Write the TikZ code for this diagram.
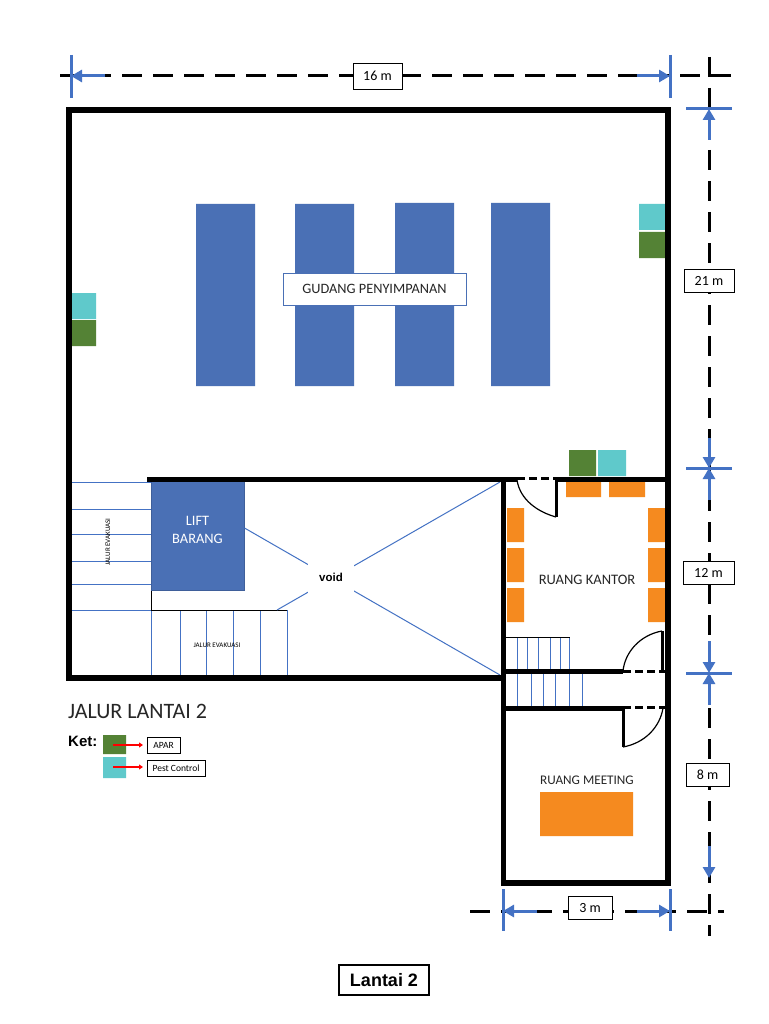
\documentclass[tikz,border=0pt]{standalone}
\usepackage{fontspec}
\setmainfont{Carlito}
\newfontfamily\arialfont{Liberation Sans}
\usetikzlibrary{arrows.meta}
\definecolor{rackblue}{HTML}{4A70B5}
\definecolor{stairblue}{HTML}{4472C4}
\definecolor{deskorange}{HTML}{F58A1F}
\definecolor{aparcolor}{HTML}{548235}
\definecolor{pestcolor}{HTML}{5FC9CB}
\tikzset{
	wall/.style={line width=5.5pt,miter limit=10},
	innerwall/.style={line width=5pt},
	thinwall/.style={line width=3pt},
	doorline/.style={line width=3pt,dash pattern=on 8pt off 4pt},
	doorswing/.style={line width=1.2pt},
	stairline/.style={stairblue,line width=1pt},
	dimline/.style={line width=3pt,dash pattern=on 20pt off 11pt},
	dimtick/.style={stairblue,line width=3pt},
	dimarrow/.style={stairblue,line width=3pt,-{Triangle[length=11pt,width=12pt]}},
	dimbox/.style={draw,fill=white,line width=0.8pt,inner sep=0pt,font=\fontsize{14}{16}\selectfont},
	tag/.style={draw,fill=white,line width=1pt,inner sep=0pt,font=\fontsize{9.5}{11}\selectfont},
	keyarrow/.style={red,line width=2.5pt,-{Triangle[length=4pt,width=5pt]}},
	roomlabel/.style={inner sep=0pt,text=black!85,font=\fontsize{14.5}{17}\selectfont}
}
\begin{document}
\begin{tikzpicture}[x=1pt,y=-1pt]
			\useasboundingbox (0,0) rectangle (768,1024);
			\fill[white] (0,0) rectangle (768,1024);

			\fill[rackblue] (196,204) rectangle (255,386)
							(295,204) rectangle (354,386)
							(395,203) rectangle (454,386)
							(491,203) rectangle (550,386);
			\node[draw=rackblue,fill=white,line width=0.8pt,inner sep=0pt,minimum width=183pt,minimum height=32pt,text=black!85,font=\fontsize{14.3}{16}\selectfont] (gudang) at (374.5,289) {GUDANG PENYIMPANAN};

			\fill[pestcolor] (639,204) rectangle (665,230)
							 (72,293) rectangle (96,319)
							 (598,450) rectangle (626,476)
							 (103,757) rectangle (126,778);
			\fill[aparcolor] (639,232) rectangle (665,258)
							 (72,320) rectangle (96,346)
							 (569,450) rectangle (596,476)
							 (103,735) rectangle (126,754);

			\fill[deskorange] (566,482) rectangle (601,497)
							  (609,482) rectangle (645,497)
							  (507,508) rectangle (524,542)
							  (507,548) rectangle (524,582)
							  (507,588) rectangle (524,622)
							  (648,508) rectangle (666,542)
							  (648,548) rectangle (666,582)
							  (648,588) rectangle (666,622)
							  (540,792) rectangle (633,836);

			\draw[stairline] (71,482) -- (151,482) (71,509) -- (151,509)
							 (71,534) -- (151,534) (71,561) -- (151,561)
							 (71,584) -- (151,584) (71,610) -- (151,610)
							 (151,610) -- (151,675) (180,610) -- (180,675)
							 (206,610) -- (206,675) (233,610) -- (233,675)
							 (260,610) -- (260,675) (287,610) -- (287,675);
			\draw[stairline] (517,637) -- (517,669) (527,637) -- (527,669)
							 (538,637) -- (538,669) (550,637) -- (550,669)
							 (560,637) -- (560,669) (569,637) -- (569,669)
							 (517,673) -- (517,706) (531,673) -- (531,706)
							 (543,673) -- (543,706) (555,673) -- (555,706)
							 (569,673) -- (569,706) (582,673) -- (582,706);
			\draw[line width=0.8pt] (151,481) -- (151,610) -- (287,610)
									(505,637) -- (570,637);

			\node[fill=rackblue,draw=rackblue!85!black,line width=0.6pt,inner sep=0pt,minimum width=93pt,minimum height=109pt] (lift) at (197.5,535.5) {};
			\node[align=center,inner sep=0pt,text=white,font=\fontsize{14.4}{18}\selectfont] (liftlabel) at (197.5,530) {LIFT\\BARANG};

			\coordinate (voidA) at (244.5,528);
			\coordinate (voidB) at (500,675);
			\coordinate (voidC) at (277,610);
			\coordinate (voidD) at (500,482);
			\draw[stairline] (voidA) -- (voidB) (voidC) -- (voidD);
			\node[fill=white,inner sep=0pt,minimum width=46pt,minimum height=33pt,font=\arialfont\bfseries\fontsize{11.5}{13}\selectfont] (void) at (331,577) {void};

			\node[rotate=90,inner sep=0pt,font=\fontsize{7}{8}\selectfont] (evakuasiA) at (108,542) {JALUR EVAKUASI};
			\node[inner sep=0pt,font=\fontsize{7}{8}\selectfont] (evakuasiB) at (217,645) {JALUR EVAKUASI};

			\draw[wall] (503,678) -- (69,678) -- (69,110) -- (668,110) -- (668,883) -- (503,883);
			\draw[innerwall] (503,885.5) -- (503,476.5);
			\draw[innerwall] (147,479) -- (517,479) (556,479) -- (668,479)
							 (503,671) -- (623,671)
							 (503,708) -- (623,708);
			\draw[doorline] (517,478) -- (556,478)
							(623,671) -- (668,671)
							(623,707) -- (668,707);
			\draw[thinwall] (556,479) -- (556,517)
							(662,631) -- (662,671)
							(623,708) -- (623,747);
			\draw[doorswing] (517,480) .. controls (520,500) and (538,512) .. (556,517)
							 (662,631) .. controls (640,635) and (625,652) .. (623,671)
							 (623,747) .. controls (645,743) and (660,727) .. (663,708);

			\node[roomlabel] (kantor) at (587,580) {RUANG KANTOR};
			\node[roomlabel,font=\fontsize{13.2}{15}\selectfont] (meeting) at (587,780) {RUANG MEETING};

			\coordinate (topL) at (60,76);
			\coordinate (topR) at (735,76);
			\coordinate (botL) at (470,911);
			\coordinate (botR) at (724,911);
			\coordinate (sideT) at (709,57);
			\coordinate (sideB) at (709,936);
			\draw[dimline] (topL) -- (topR);
			\draw[dimline] (botL) -- (botR);
			\draw[dimline] (sideT) -- (sideB);

			\draw[dimtick] (71,55) -- (71,98)
						   (670,55) -- (670,98)
						   (503,889) -- (503,931)
						   (670,889) -- (670,931)
						   (686,109) -- (732,109)
						   (686,468) -- (732,468)
						   (686,673) -- (732,673);
			\draw[dimarrow] (105,76) -- (71,76);
			\draw[dimarrow] (637,76) -- (670,76);
			\draw[dimarrow] (537,911) -- (503,911);
			\draw[dimarrow] (637,911) -- (670,911);
			\draw[dimarrow] (709,140) -- (709,109);
			\draw[dimarrow] (709,438) -- (709,468);
			\draw[dimarrow] (709,500) -- (709,468);
			\draw[dimarrow] (709,641) -- (709,673);
			\draw[dimarrow] (709,705) -- (709,673);
			\draw[dimarrow] (709,846) -- (709,878);

			\node[dimbox,minimum width=49pt,minimum height=26pt] (lebar) at (377.5,76) {16 m};
			\node[dimbox,minimum width=44pt,minimum height=23pt] (lebarB) at (590,907.5) {3 m};
			\node[dimbox,minimum width=50pt,minimum height=23pt] (panjangA) at (709,280.5) {21 m};
			\node[dimbox,minimum width=51pt,minimum height=23pt] (panjangB) at (708.5,572.5) {12 m};
			\node[dimbox,minimum width=43pt,minimum height=23pt] (panjangC) at (707.5,774.5) {8 m};

			\node[anchor=west,inner sep=0pt,text=black!85,font=\fontsize{22}{26}\selectfont] (jalur) at (68,711) {JALUR LANTAI 2};
			\node[anchor=west,inner sep=0pt,font=\arialfont\bfseries\fontsize{15}{17}\selectfont] (ket) at (68,741) {Ket:};

			\node[tag,minimum width=33pt,minimum height=16pt] (apar) at (163.5,745) {APAR};
			\node[tag,minimum width=58pt,minimum height=16pt] (pest) at (176,768) {Pest Control};
			\coordinate (aparIn) at (113,745);
			\coordinate (pestIn) at (113,767);
			\draw[keyarrow] (aparIn) -- (143,745);
			\draw[keyarrow] (pestIn) -- (143,767);

			\node[draw,line width=1.2pt,inner sep=0pt,minimum width=90pt,minimum height=30pt,font=\arialfont\bfseries\fontsize{18}{20}\selectfont] (judul) at (384,980) {Lantai 2};
		\end{tikzpicture}
\end{document}
